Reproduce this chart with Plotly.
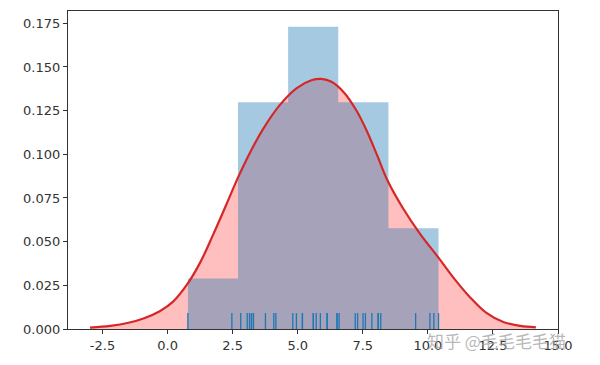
import numpy as np
import plotly.graph_objects as go

# observations (rug / histogram source)
data = [0.78, 2.47,
        2.81, 3.06, 3.15, 3.15, 3.23, 3.30, 3.76, 4.08, 4.16,
        4.81, 4.95, 5.18, 5.18, 5.60, 5.60, 5.71, 5.87, 6.13, 6.13, 6.51, 6.51,
        6.59, 7.21, 7.30, 7.51, 7.60, 7.85, 8.09, 8.09, 8.19,
        9.53, 10.08, 10.23, 10.41]

# KDE curve
kde_x = [-2.98, -2.2, -1.5, -0.9, -0.3, 0.2, 0.75, 1.25, 1.75, 2.25, 2.70,
         3.15, 3.65, 4.30, 4.95, 5.55, 5.90, 6.30, 6.80, 7.25, 7.65, 8.05, 8.45,
         9.05, 9.70, 10.40, 10.95, 11.60, 12.25, 12.90, 13.55, 14.15]
kde_y = [0.0008, 0.0018, 0.0036, 0.0062, 0.0102, 0.0155, 0.0255, 0.0380, 0.0540,
         0.0710, 0.0865, 0.1005, 0.1140, 0.1280, 0.1378, 0.1425, 0.1432, 0.1415,
         0.1350, 0.1252, 0.1135, 0.0995, 0.0850, 0.0690, 0.0545, 0.0410, 0.0300,
         0.0185, 0.0092, 0.0040, 0.0018, 0.0010]

x_ticks = [-2.5, 0.0, 2.5, 5.0, 7.5, 10.0, 12.5, 15.0]
y_ticks = [0.0, 0.025, 0.05, 0.075, 0.1, 0.125, 0.15, 0.175]

heights, edges = np.histogram(data, bins=5, density=True)

fig = go.Figure()

# KDE shaded area
fig.add_trace(go.Scatter(x=kde_x, y=kde_y, mode="lines", line=dict(width=0, shape="spline", smoothing=1.0),
                         fill="tozeroy", fillcolor="rgba(255,0,0,0.25)", hoverinfo="skip", showlegend=False))

# histogram as a step fill
hx = list(edges)
hy = list(heights) + [heights[-1]]
fig.add_trace(go.Scatter(x=hx, y=hy, mode="lines", line=dict(width=0, shape="hv"),
                         fill="tozeroy", fillcolor="rgba(31,119,180,0.4)", showlegend=False))

# KDE line
fig.add_trace(go.Scatter(x=kde_x, y=kde_y, mode="lines",
                         line=dict(color="#d62728", width=2.2, shape="spline", smoothing=1.0),
                         showlegend=False))

# rug
for v in data:
    fig.add_shape(type="line", xref="x", yref="y domain", x0=v, x1=v, y0=0, y1=0.05,
                  line=dict(color="#1f77b4", width=1.3), layer="above")

axis_font = dict(family="DejaVu Sans", size=13, color="#333333")
fig.update_layout(
    width=592, height=357,
    margin=dict(l=60, r=42, t=3, b=36),
    paper_bgcolor="white", plot_bgcolor="white",
    xaxis=dict(range=[-3.826, 15.0], tickvals=x_ticks,
               ticktext=["%.1f" % t for t in x_ticks],
               showgrid=False, zeroline=False, showline=True, mirror=True,
               linecolor="#333333", linewidth=1.2, ticks="outside", ticklen=4,
               tickcolor="#333333", tickfont=axis_font),
    yaxis=dict(range=[0, 0.18204], tickvals=y_ticks,
               ticktext=["%.3f" % t for t in y_ticks],
               showgrid=False, zeroline=False, showline=True, mirror=True,
               linecolor="#333333", linewidth=1.2, ticks="outside", ticklen=4,
               tickcolor="#333333", tickfont=axis_font),
)

fig.add_annotation(text="知乎 @毛毛毛毛猫", xref="paper", yref="paper", x=1.0204, y=-0.0377,
                   xanchor="right", yanchor="middle", showarrow=False,
                   font=dict(family="Noto Sans CJK SC", size=17, color="rgba(160,160,160,0.75)"))

fig.write_html("out.html")
